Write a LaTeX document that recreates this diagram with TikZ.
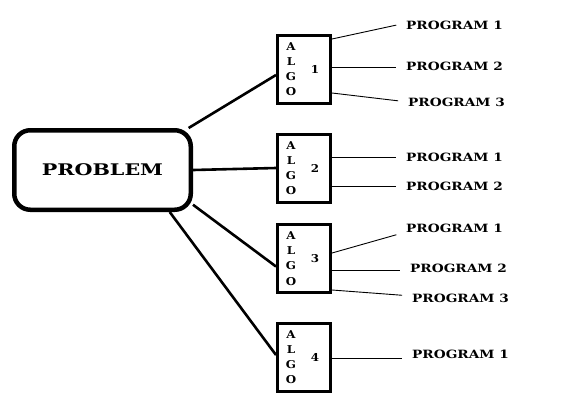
\documentclass[tikz,border=0pt]{standalone}
\usepackage{fontspec}
\setmainfont{DejaVu Serif}
\newcommand{\wideit}[2][1.2]{\scalebox{#1}[1]{#2}}
\begin{document}
\begin{tikzpicture}[x=1pt,y=-1pt,
  algobox/.style={draw,line width=3pt,minimum width=53pt,minimum height=68pt,inner sep=0pt},
  probbox/.style={draw,line width=4.5pt,rounded corners=16pt,minimum width=176.5pt,minimum height=79.5pt,inner sep=0pt,
    font=\fontsize{16}{19}\selectfont\bfseries},
  mainlink/.style={line width=2.6pt},
  proglink/.style={line width=0.9pt,shorten >=10pt},
  lab/.style={font=\fontsize{11.4}{14}\selectfont\bfseries,inner sep=0pt,anchor=west},
  algotxt/.style={font=\fontsize{10.8}{15.2}\selectfont\bfseries,inner sep=0pt,align=center},
  numtxt/.style={font=\fontsize{10.8}{13}\selectfont\bfseries,inner sep=0pt}]
\useasboundingbox (0,0) rectangle (561,410);

\node[probbox] (P) at (102.5,170) {\wideit[1.29]{PROBLEM}};

\foreach \i/\y in {1/69,2/168,3/258.5,4/357}{
  \node[algobox] (B\i) at (304,\y) {};
  \node[algotxt] (T\i) at (291,\y) {\wideit[1.1]{A}\\\wideit[1.1]{L}\\\wideit[1.1]{G}\\\wideit[1.1]{O}};
  \node[numtxt] (N\i) at (315,\y) {\wideit[1.1]{\i}};
}

% main connectors
\draw[mainlink] (P.26) -- ([yshift=-6pt]B1.west);
\draw[mainlink] (P.east) -- (B2.west);
\draw[mainlink] (P.-21.8) -- ([yshift=-8pt]B3.west);
\draw[mainlink] (P.-32.5) -- ([yshift=2pt]B4.west);

% program labels
\node[lab] (L11) at (406,25) {\wideit{PROGRAM 1}};
\node[lab] (L12) at (406,66) {\wideit{PROGRAM 2}};
\node[lab] (L13) at (408,102) {\wideit{PROGRAM 3}};
\node[lab] (L21) at (406,157) {\wideit{PROGRAM 1}};
\node[lab] (L22) at (406,186) {\wideit{PROGRAM 2}};
\node[lab] (L31) at (406,228) {\wideit{PROGRAM 1}};
\node[lab] (L32) at (410,268) {\wideit{PROGRAM 2}};
\node[lab] (L33) at (412,298) {\wideit{PROGRAM 3}};
\node[lab] (L41) at (412,354) {\wideit{PROGRAM 1}};

% program connectors
\draw[proglink] ([yshift=30pt]B1.east) -- ([yshift=2pt]L11.west);
\draw[proglink] ([yshift=1.5pt]B1.east) -- ([yshift=-1.5pt]L12.west);
\draw[proglink] ([yshift=-24pt]B1.east) -- (L13.west);
\draw[proglink] ([yshift=11pt]B2.east) -- (L21.west);
\draw[proglink] ([yshift=-18pt]B2.east) -- (L22.west);
\draw[proglink] ([yshift=5.5pt]B3.east) -- ([yshift=-4pt]L31.west);
\draw[proglink] ([yshift=-11.5pt]B3.east) -- ([yshift=-2pt]L32.west);
\draw[proglink] ([yshift=-31.5pt]B3.east) -- ([yshift=2pt]L33.west);
\draw[proglink] ([yshift=-1pt]B4.east) -- ([yshift=-4pt]L41.west);
\end{tikzpicture}
\end{document}
